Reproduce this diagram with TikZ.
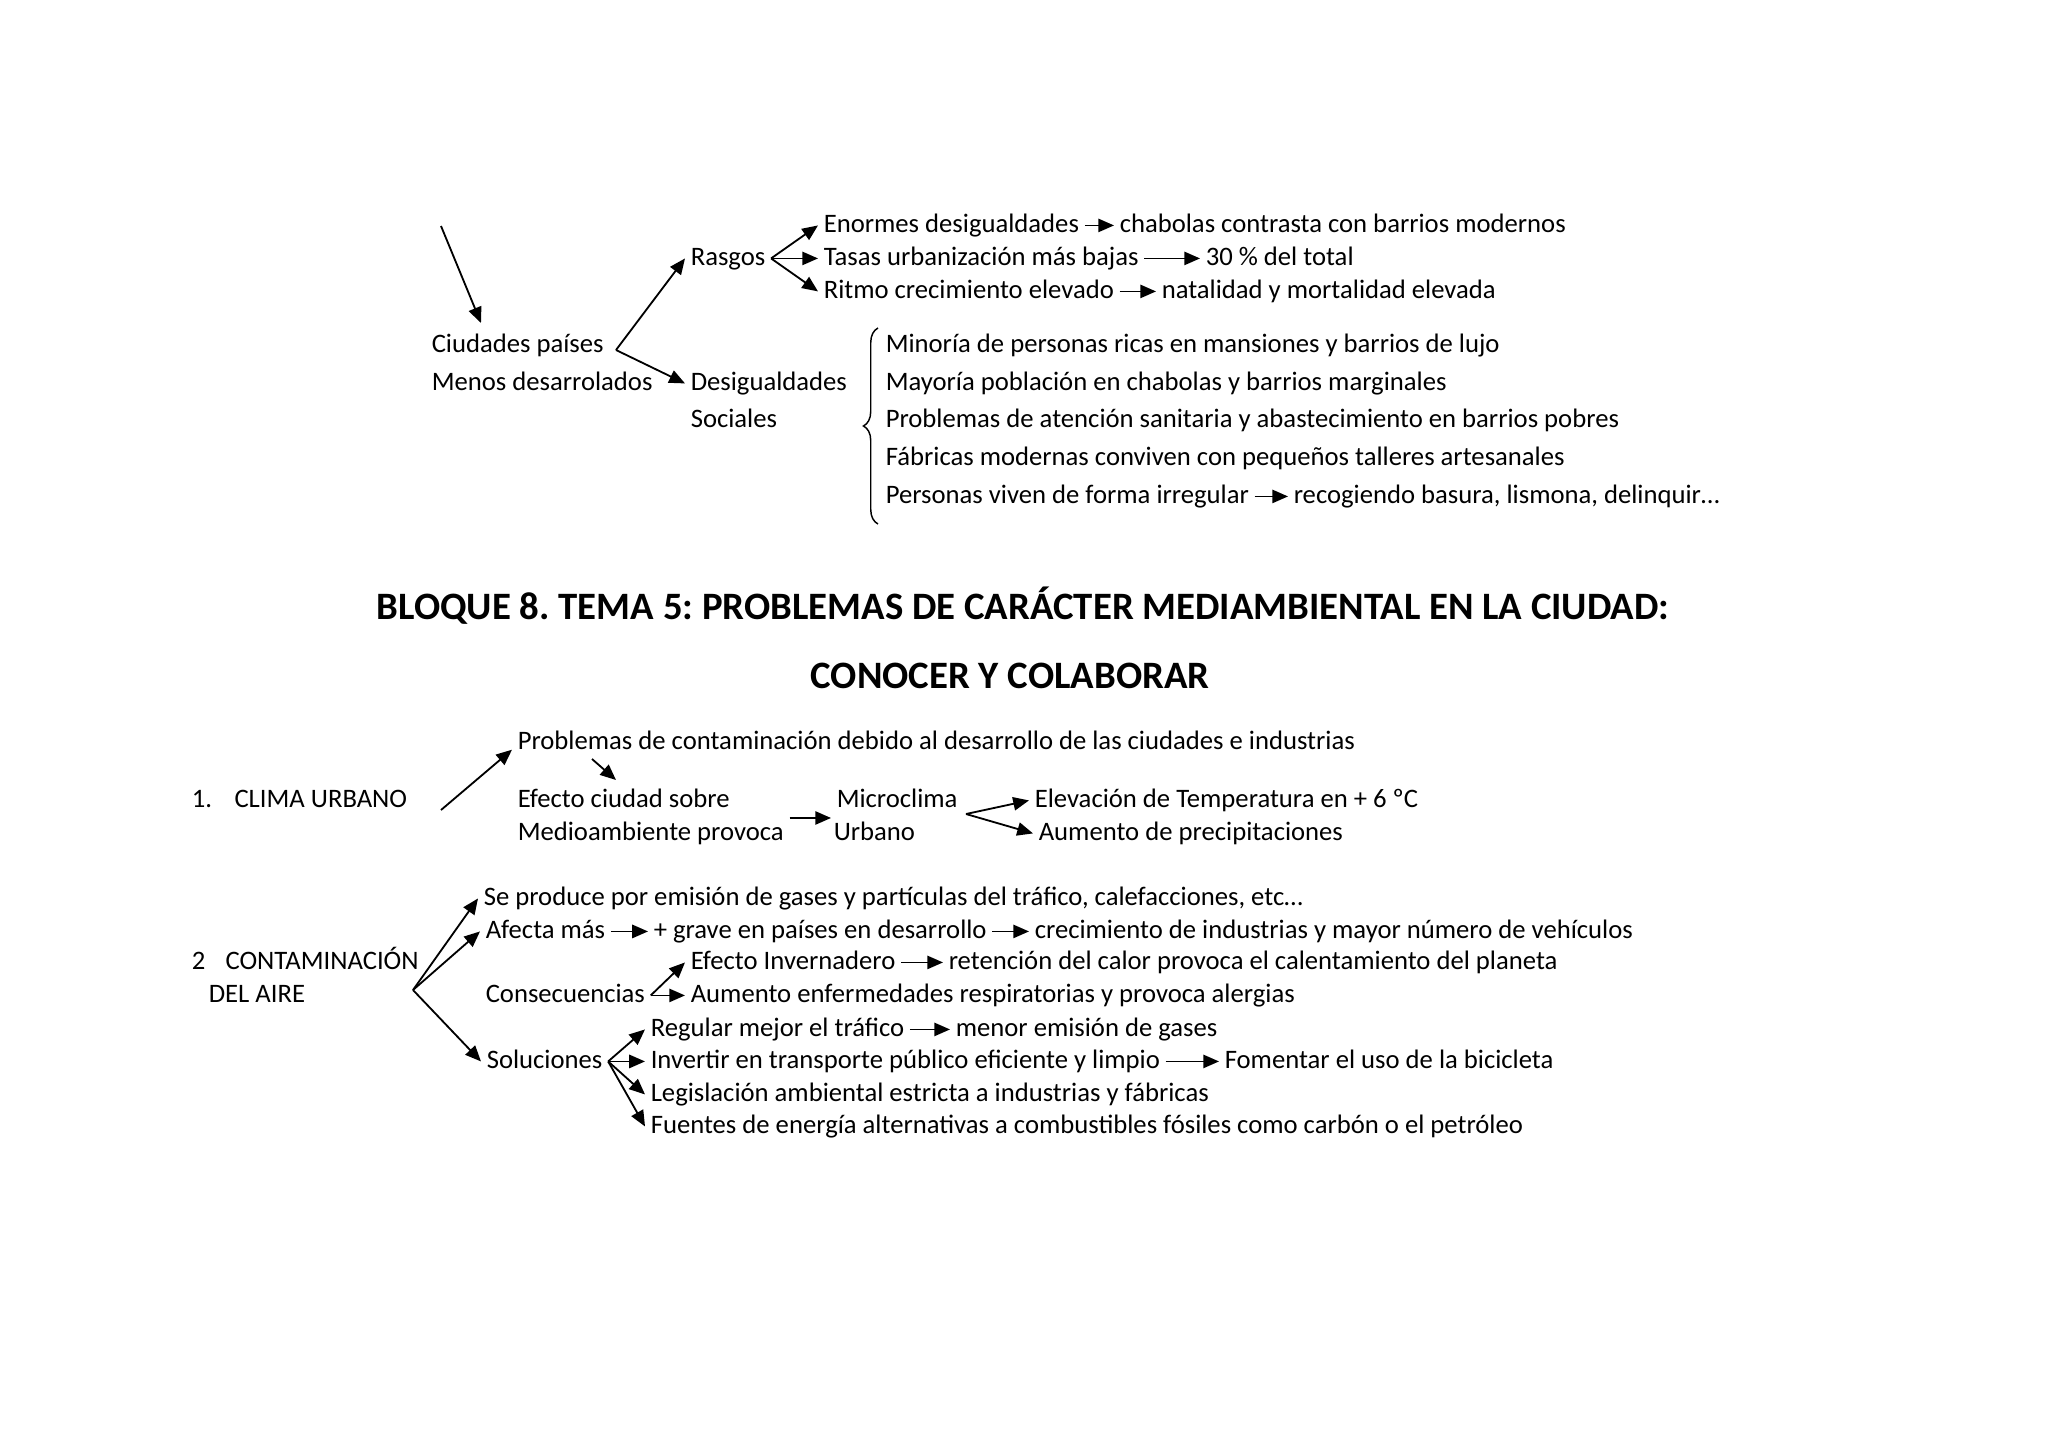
\documentclass[tikz,border=0pt]{standalone}
\usepackage{fontspec}
\setmainfont{Carlito}
\frenchspacing
\usetikzlibrary{arrows.meta,decorations.pathreplacing}
\tikzset{
  txt/.style={anchor=west, yshift=-1pt, inner xsep=2pt, inner ysep=1pt, text height=8pt, text depth=2pt, font=\fontsize{11}{13}\selectfont},
  ttl/.style={font=\fontsize{16}{19}\selectfont\bfseries}
}
\begin{document}
\begin{tikzpicture}[x=0.014502cm, y=-0.014502cm, >={Triangle[length=6.5pt,width=5.5pt]}, line width=0.75pt]
     \useasboundingbox (0,0) rectangle (2048,1449);
     \node[txt] (cpa) at (426,343) {Ciudades países};
     \node[txt] (cpb) at (426,381) {Menos desarrolados};
     \node[txt] (ras) at (685,256) {Rasgos};
     \node[txt] (dsa) at (685,381) {Desigualdades};
     \node[txt] (dsb) at (685,418) {Sociales};
     \node[txt] (ed) at (818,223) {Enormes desigualdades};
     \node[txt] (cha) at (1114,223) {chabolas contrasta con barrios modernos};
     \node[txt] (tas) at (818,256) {Tasas urbanización más bajas};
     \node[txt] (tot) at (1200,256) {30 \% del total};
     \node[txt] (rit) at (818,289) {Ritmo crecimiento elevado};
     \node[txt] (nat) at (1156,289) {natalidad y mortalidad elevada};
     \node[txt] (mi1) at (880,343) {Minoría de personas ricas en mansiones y barrios de lujo};
     \node[txt] (mi2) at (880,381) {Mayoría población en chabolas y barrios marginales};
     \node[txt] (mi3) at (880,418) {Problemas de atención sanitaria y abastecimiento en barrios pobres};
     \node[txt] (mi4) at (880,456) {Fábricas modernas conviven con pequeños talleres artesanales};
     \node[txt] (mi5) at (880,494) {Personas viven de forma irregular};
     \node[txt] (rec) at (1288,494) {recogiendo basura, lismona, delinquir…};
     \coordinate (p0) at (441,226);
     \coordinate (p1) at (481,323);
     \coordinate (fk1) at (616,350);
     \draw[->] (p0) -- (p1);
     \draw[->] (fk1) -- (ras.west);
     \draw[->] (fk1) -- (dsa.west);
     \foreach \n in {ed,tas,rit}
       \draw[->] (ras.east) -- (\n.west);
     \draw[->] (ed.east) -- (cha.west);
     \draw[->] (tas.east) -- (tot.west);
     \draw[->] (rit.east) -- (nat.west);
     \draw[->] (mi5.east) -- (rec.west);
     \draw[line width=0.6pt, decorate, decoration={brace, amplitude=6pt}] (878,524) -- (878,328);
     \node[ttl] (t1) at (1023,606) {BLOQUE 8. TEMA 5: PROBLEMAS DE CARÁCTER MEDIAMBIENTAL EN LA CIUDAD:};
     \node[ttl] (t2) at (1010,676) {CONOCER Y COLABORAR};
     \node[txt] (cu) at (186,798) {\makebox[0.62cm][l]{1.}CLIMA URBANO};
     \node[txt] (pc) at (512,740) {Problemas de contaminación debido al desarrollo de las ciudades e industrias};
     \node[txt] (efa) at (512,798) {Efecto ciudad sobre};
     \node[txt] (efb) at (512,831) {Medioambiente provoca};
     \node[txt] (mca) at (831,798) {Microclima};
     \node[txt] (mcb) at (828,831) {Urbano};
     \node[txt] (ele) at (1029,798) {Elevación de Temperatura en + 6 ºC};
     \node[txt] (aup) at (1033,831) {Aumento de precipitaciones};
     \coordinate (q0) at (441,810);
     \coordinate (q1) at (592,759);
     \coordinate (q2) at (616,780);
     \coordinate (fk3) at (966,814);
     \draw[->] (q0) -- (pc.base west);
     \draw[->] (q1) -- (q2);
     \draw[->] (efb.north east) -- (efb.north east -| mca.west);
     \draw[->] (fk3) -- (ele.west);
     \draw[->] (fk3) -- (aup.west);
     \node[txt] (ca) at (186,960) {\makebox[0.49cm][l]{2}CONTAMINACIÓN};
     \node[txt] (cb) at (203,993) {DEL AIRE};
     \node[txt] (pro) at (478,896) {Se produce por emisión de gases y partículas del tráfico, calefacciones, etc…};
     \node[txt] (afe) at (480,929) {Afecta más};
     \node[txt] (gra) at (648,929) {+ grave en países en desarrollo};
     \node[txt] (cre) at (1029,929) {crecimiento de industrias y mayor número de vehículos};
     \node[txt] (con) at (480,993) {Consecuencias};
     \node[txt] (inv) at (685,960) {Efecto Invernadero};
     \node[txt] (ret) at (943,960) {retención del calor provoca el calentamiento del planeta};
     \node[txt] (aen) at (685,993) {Aumento enfermedades respiratorias y provoca alergias};
     \node[txt] (sol) at (481,1059) {Soluciones};
     \node[txt] (reg) at (645,1027) {Regular mejor el tráfico};
     \node[txt] (men) at (950,1027) {menor emisión de gases};
     \node[txt] (ivt) at (645,1059) {Invertir en transporte público eficiente y limpio};
     \node[txt] (fom) at (1219,1059) {Fomentar el uso de la bicicleta};
     \node[txt] (leg) at (645,1092) {Legislación ambiental estricta a industrias y fábricas};
     \node[txt] (fue) at (645,1124) {Fuentes de energía alternativas a combustibles fósiles como carbón o el petróleo};
     \coordinate (fk4) at (413,990);
     \foreach \n in {pro,afe,sol}
       \draw[->] (fk4) -- (\n.west);
     \draw[->] (afe.east) -- (gra.west);
     \draw[->] (gra.east) -- (cre.west);
     \foreach \n in {inv,aen}
       \draw[->] (con.east) -- (\n.west);
     \draw[->] (inv.east) -- (ret.west);
     \foreach \n in {reg,ivt,leg,fue}
       \draw[->] (sol.east) -- (\n.west);
     \draw[->] (reg.east) -- (men.west);
     \draw[->] (ivt.east) -- (fom.west);
   \end{tikzpicture}
\end{document}
